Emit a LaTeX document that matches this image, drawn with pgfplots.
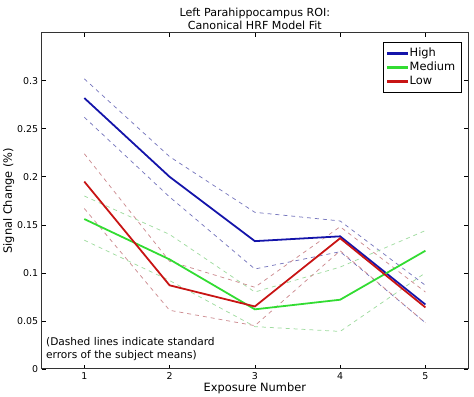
\documentclass[border=0pt]{standalone}
\usepackage{pgfplots}
\pgfplotsset{compat=1.18}
\usepackage{fontspec}
\setmainfont{DejaVu Sans}
\definecolor{hi}{RGB}{20,20,170}
\definecolor{med}{RGB}{50,220,50}
\definecolor{lo}{RGB}{200,20,20}
\definecolor{hid}{RGB}{120,120,190}
\definecolor{medd}{RGB}{160,220,160}
\definecolor{lod}{RGB}{205,140,145}
\begin{document}
\begin{tikzpicture}
\begin{axis}[
  scale only axis, width=430pt, height=339pt,
  xmin=0.5, xmax=5.5, ymin=0, ymax=0.35,
  xtick={1,2,3,4,5},
  ytick={0,0.05,0.1,0.15,0.2,0.25,0.3},
  yticklabels={0,0.05,0.1,0.15,0.2,0.25,0.3},
  scaled y ticks=false,
  tick align=inside, major tick length=4pt,
  tick style={black, line width=0.6pt},
  axis line style={line width=1pt, black!80},
  /pgf/number format/assume math mode=true,
  tick label style={font=\fontsize{9.5}{10}\selectfont},
  xlabel={Exposure Number},
  ylabel={Signal Change (\%)},
  label style={font=\fontsize{11.5}{13}\selectfont},
  xlabel style={yshift=4pt},
  ylabel style={yshift=-4pt},
  title={Left Parahippocampus ROI:\\Canonical HRF Model Fit},
  title style={align=center, font=\fontsize{11.2}{13}\selectfont, yshift=-6pt},
  legend style={at={(0.985,0.973)}, anchor=north east, draw=black, line width=0.8pt,
    font=\fontsize{11.5}{12.5}\selectfont, row sep=0pt, inner xsep=4pt, inner ysep=4pt},
  legend image code/.code={\fill[#1] (0cm,-1pt) rectangle (0.7cm,1pt);},
  legend cell align=left,
  clip=false,
]
\addlegendimage{hi}
\addlegendentry{High}
\addlegendimage{med}
\addlegendentry{Medium}
\addlegendimage{lo}
\addlegendentry{Low}
% standard error dashed lines
\addplot[hid, dash pattern=on 4pt off 4pt, line width=0.75pt, forget plot] coordinates {(1,0.302) (2,0.221) (3,0.163) (4,0.154) (5,0.087)};
\addplot[hid, dash pattern=on 4pt off 4pt, line width=0.75pt, forget plot] coordinates {(1,0.262) (2,0.179) (3,0.104) (4,0.122) (5,0.048)};
\addplot[medd, dash pattern=on 4pt off 4pt, line width=0.75pt, forget plot] coordinates {(1,0.180) (2,0.140) (3,0.080) (4,0.106) (5,0.144)};
\addplot[medd, dash pattern=on 4pt off 4pt, line width=0.75pt, forget plot] coordinates {(1,0.134) (2,0.092) (3,0.044) (4,0.039) (5,0.100)};
\addplot[lod, dash pattern=on 4pt off 4pt, line width=0.75pt, forget plot] coordinates {(1,0.224) (2,0.112) (3,0.085) (4,0.148) (5,0.080)};
\addplot[lod, dash pattern=on 4pt off 4pt, line width=0.75pt, forget plot] coordinates {(1,0.167) (2,0.061) (3,0.045) (4,0.123) (5,0.048)};
% mean lines
\addplot[hi, line width=1.8pt, forget plot] coordinates {(1,0.282) (2,0.200) (3,0.133) (4,0.138) (5,0.067)};
\addplot[med, line width=1.8pt, forget plot] coordinates {(1,0.156) (2,0.114) (3,0.062) (4,0.072) (5,0.123)};
\addplot[lo, line width=1.8pt, forget plot] coordinates {(1,0.195) (2,0.087) (3,0.065) (4,0.136) (5,0.064)};
\node[anchor=south west, align=left, font=\fontsize{10.7}{13.5}\selectfont, inner sep=0pt]
  at (axis cs:0.55,0.008) {(Dashed lines indicate standard\\errors of the subject means)};
\end{axis}
\path (current axis.south west) ++(-38pt,-28pt) coordinate (bl);
\path (current axis.north east) ++(6pt,33pt) coordinate (tr);
\path (bl) rectangle (tr);
\end{tikzpicture}
\end{document}
